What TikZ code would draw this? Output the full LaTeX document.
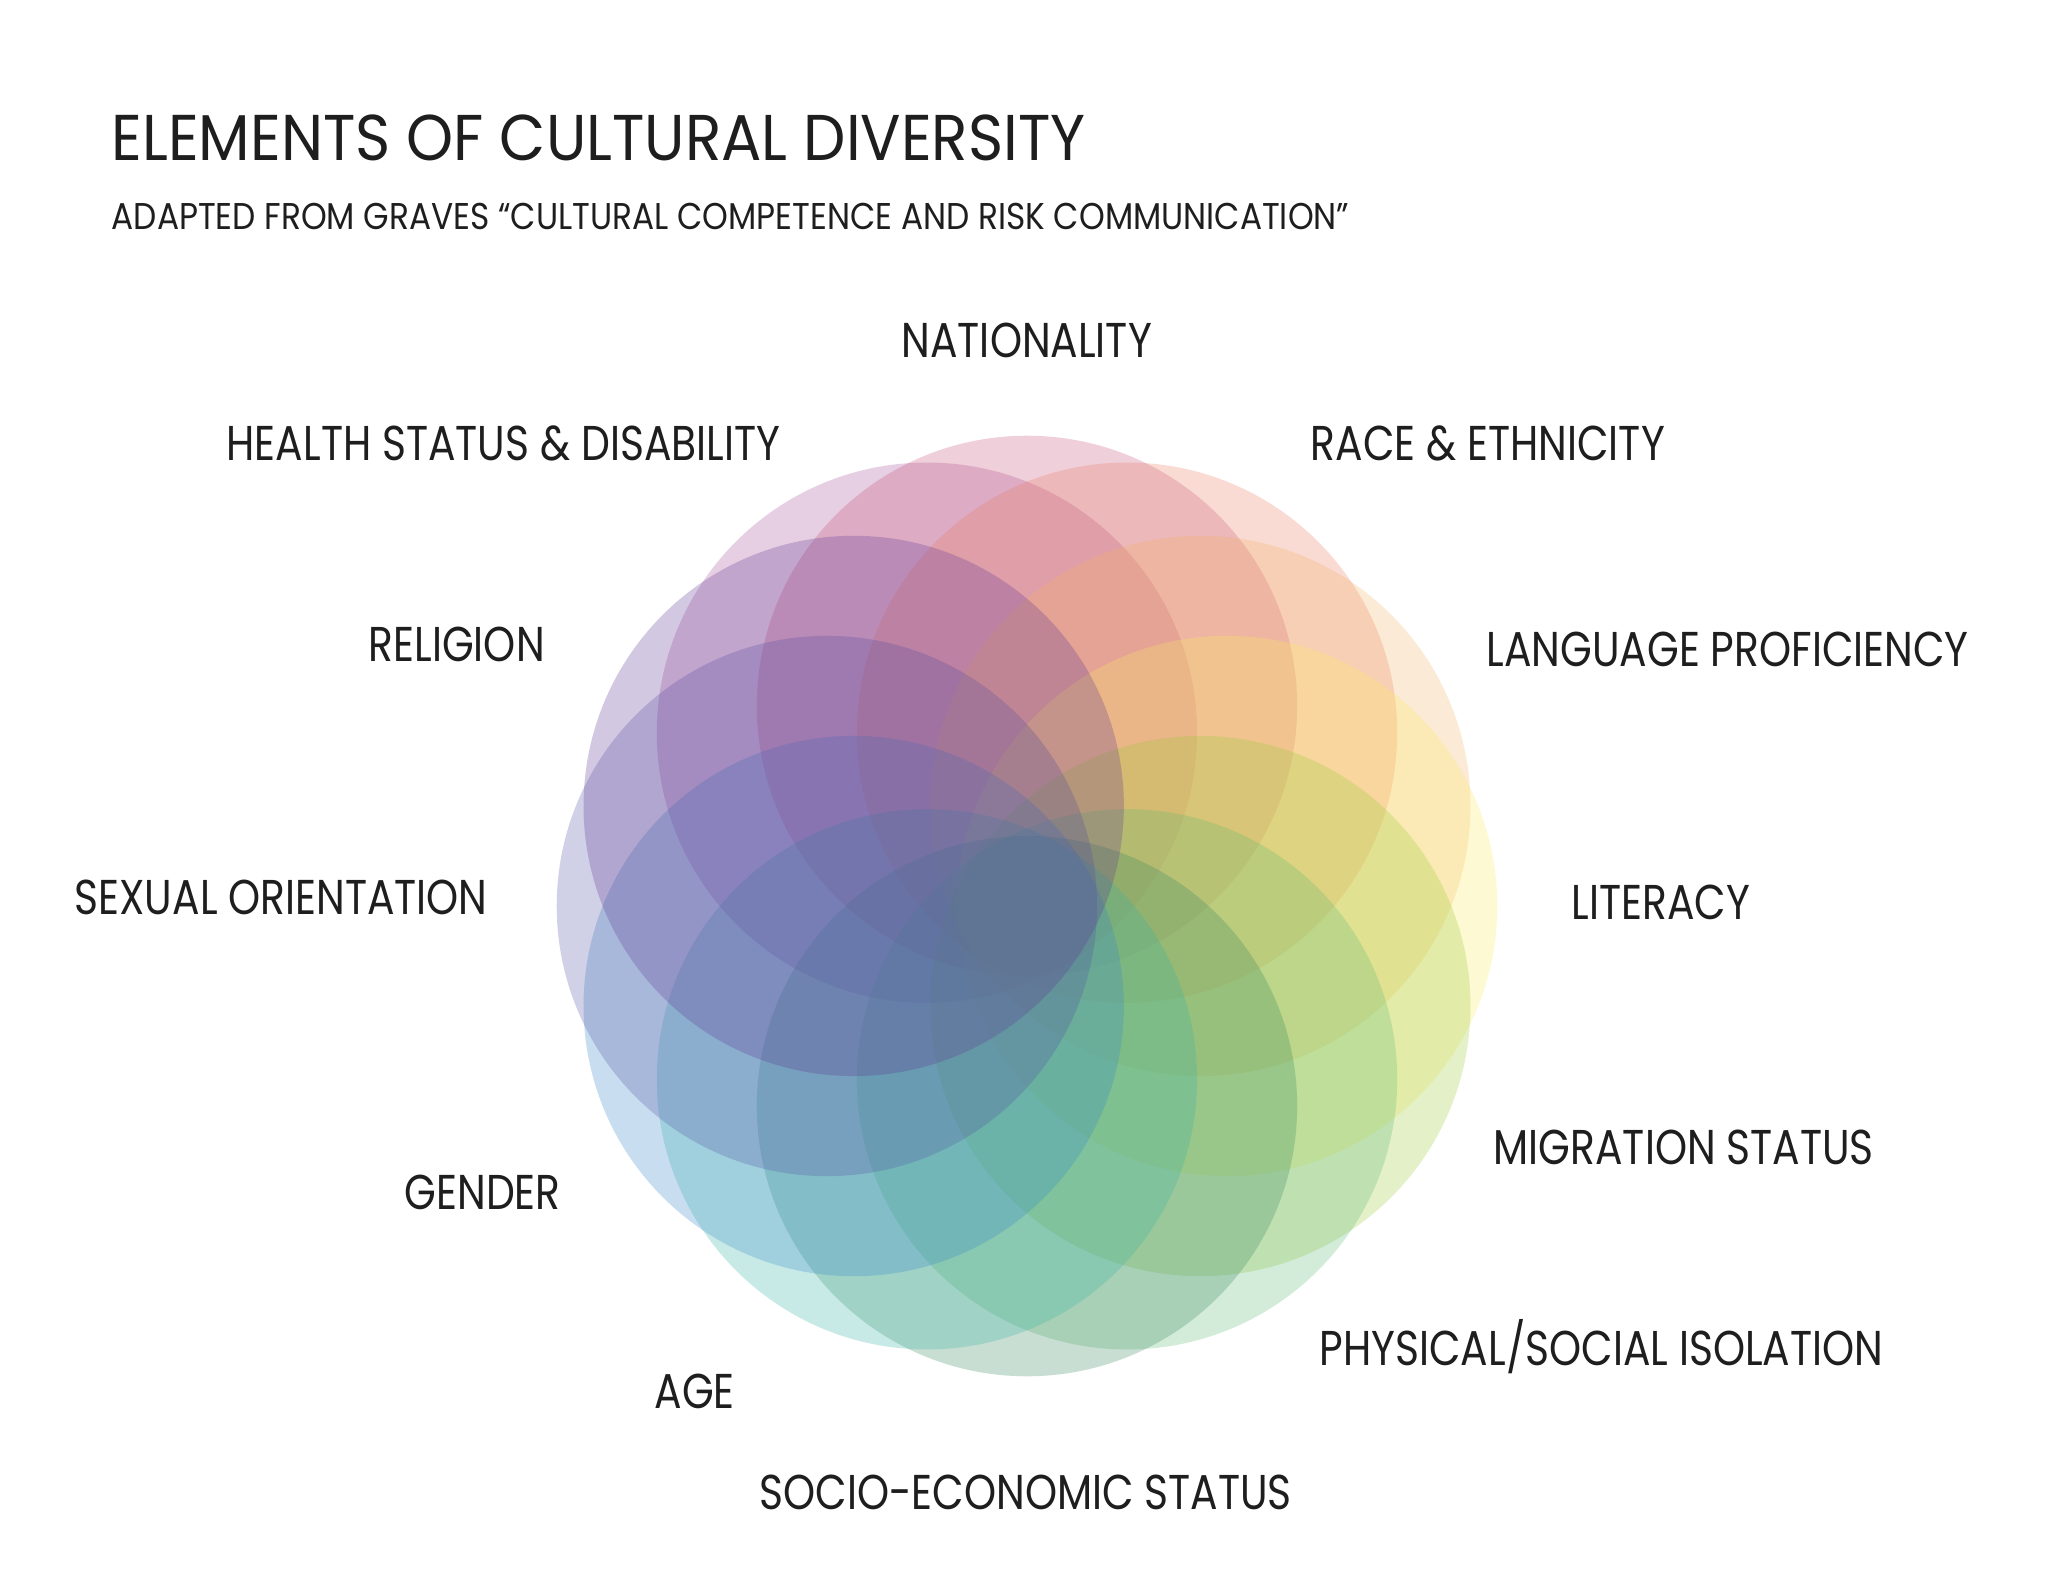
\documentclass[tikz,border=0pt]{standalone}
\usepackage{fontspec}
\setmainfont{Poppins}
\newfontfamily\labelfont[FakeStretch=0.835]{Poppins}
\newfontfamily\titlefont[FakeStretch=0.925]{Poppins}
\newfontfamily\sourcefont[FakeStretch=0.88]{Poppins}
\usepackage{xcolor}

% petal colours
\definecolor{healthcol}{RGB}{163,75,155}
\definecolor{natcol}{RGB}{199,79,115}
\definecolor{racecol}{RGB}{235,123,99}
\definecolor{langcol}{RGB}{243,178,100}
\definecolor{litcol}{RGB}{251,235,95}
\definecolor{migcol}{RGB}{155,203,55}
\definecolor{isocol}{RGB}{95,187,115}
\definecolor{sescol}{RGB}{55,135,95}
\definecolor{agecol}{RGB}{55,179,163}
\definecolor{gendercol}{RGB}{55,135,203}
\definecolor{sexcol}{RGB}{83,83,163}
\definecolor{relcol}{RGB}{95,55,147}
\definecolor{inkcol}{RGB}{30,30,30}

\tikzset{
  lbl/.style={anchor=base west, inner sep=0pt, text=inkcol,
    font=\labelfont\fontsize{13.9}{16}\selectfont},
  headline/.style={anchor=base west, inner sep=0pt, text=inkcol,
    font=\titlefont\fontsize{18.4}{22}\selectfont},
  subline/.style={anchor=base west, inner sep=0pt, text=inkcol,
    font=\sourcefont\fontsize{10.6}{13}\selectfont}
}

\begin{document}
\begin{tikzpicture}[x=0.01cm,y=-0.01cm]
  % page
  \fill[white] (0,0) rectangle (2048,1582);
  \useasboundingbox (0,0) rectangle (2048,1582);

  % heading
  \node[headline] (title) at (111,161) {ELEMENTS OF CULTURAL DIVERSITY};
  \node[subline] (source) at (111,229) {ADAPTED FROM GRAVES “CULTURAL COMPETENCE AND RISK COMMUNICATION”};

  % petals, clockwise from the top left
  \coordinate (mid) at (1027,906);
  \foreach \ang/\col in {120/healthcol,90/natcol,60/racecol,30/langcol,
      0/litcol,-30/migcol,-60/isocol,-90/sescol,-120/agecol,
      -150/gendercol,180/sexcol,150/relcol}
    \fill[\col, fill opacity=0.27] (mid) ++(\ang:2cm) circle (2.7cm);

  % labels
  \node[lbl] (nat) at (901,357) {NATIONALITY};
  \node[lbl] (health) at (226,460) {HEALTH STATUS \& DISABILITY};
  \node[lbl] (race) at (1310,460) {RACE \& ETHNICITY};
  \node[lbl] (rel) at (368,661) {RELIGION};
  \node[lbl] (lang) at (1486,666) {LANGUAGE PROFICIENCY};
  \node[lbl] (sex) at (74,914) {SEXUAL ORIENTATION};
  \node[lbl] (lit) at (1571,919) {LITERACY};
  \node[lbl] (mig) at (1493,1164) {MIGRATION STATUS};
  \node[lbl] (gender) at (404,1209) {GENDER};
  \node[lbl] (iso) at (1319,1365) {PHYSICAL/SOCIAL ISOLATION};
  \node[lbl] (age) at (654,1408) {AGE};
  \node[lbl] (ses) at (759,1509) {SOCIO-ECONOMIC STATUS};
\end{tikzpicture}
\end{document}
